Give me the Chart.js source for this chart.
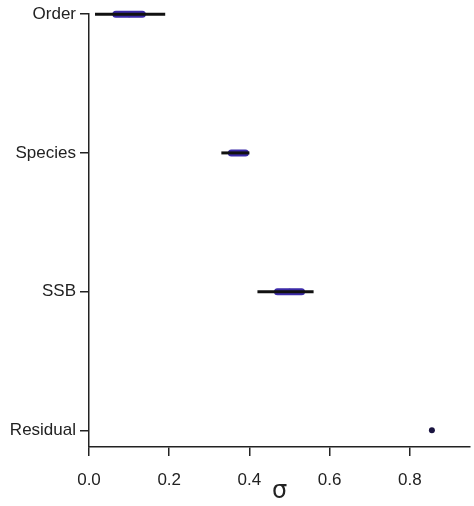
<!DOCTYPE html>
<html><head><meta charset="utf-8">
<script src="https://cdn.jsdelivr.net/npm/chart.js@4"></script>
<style>html,body{margin:0;background:#fff}#wrap{width:474px;height:506px}</style>
</head><body><div id="wrap"><canvas id="c"></canvas></div>
<script>
'use strict';
/* ── DATA ── */
const CATS   = ['Order', 'Species', 'SSB', 'Residual'];
const MEAN   = [0.10, 0.37, 0.50, 0.855];
const LO95   = [0.015, 0.33, 0.42, null];
const HI95   = [0.19, 0.40, 0.56, null];
const LO50   = [0.067, 0.355, 0.47, null];
const HI50   = [0.133, 0.39, 0.53, null];
const XTICKS = [0, 0.2, 0.4, 0.6, 0.8];

const datasets = [];
CATS.forEach((c, i) => {
  if (LO95[i] != null) datasets.push({ data:[{x:LO95[i],y:i},{x:HI95[i],y:i}], borderColor:'#111', borderWidth:3 });
  if (LO50[i] != null) datasets.push({ data:[{x:LO50[i],y:i},{x:HI50[i],y:i}], borderColor:'#3b2aa8', borderWidth:7, borderCapStyle:'round' });
});
datasets.push({ data:MEAN.map((m,i)=>({x:m,y:i})), showLine:false, pointRadius:3, backgroundColor:'#1a1440', borderWidth:0 });
datasets.forEach(d => { if (d.showLine === undefined) { d.showLine = true; d.pointRadius = 0; } d.clip = false; });

new Chart(document.getElementById('c'), {
  type:'scatter',
  data:{ datasets },
  options:{
    responsive:true, maintainAspectRatio:false, animation:false,
    layout:{ padding:{ top:8, right:0, bottom:0, left:0 } },
    plugins:{ legend:{display:false}, tooltip:{enabled:false} },
    scales:{
      x:{ type:'linear', min:0, max:0.95,
        afterBuildTicks:s=>{ s.ticks = XTICKS.map(v=>({value:v})); },
        afterFit:s=>{ s.height = 59; },
        grid:{ display:true, drawOnChartArea:false, color:'#222', tickLength:9, lineWidth:1.5 },
        border:{ color:'#222', width:1.5 },
        ticks:{ color:'#222', font:{family:'Liberation Sans', size:17}, padding:14, callback:v=>v.toFixed(1) },
        title:{ display:true, text:'σ', color:'#222', font:{family:'DejaVu Sans', size:24}, padding:{top:-6,bottom:0} }
      },
      y:{ type:'linear', reverse:true, min:0, max:3.12,
        afterBuildTicks:s=>{ s.ticks = CATS.map((c,i)=>({value:i})); },
        afterFit:s=>{ s.width = 89; },
        grid:{ display:true, drawOnChartArea:false, color:'#222', tickLength:9, lineWidth:1.5 },
        border:{ color:'#222', width:1.5 },
        ticks:{ color:'#222', font:{family:'Liberation Sans', size:17}, padding:4, callback:v=>CATS[v] }
      }
    }
  }
});
</script></body></html>
